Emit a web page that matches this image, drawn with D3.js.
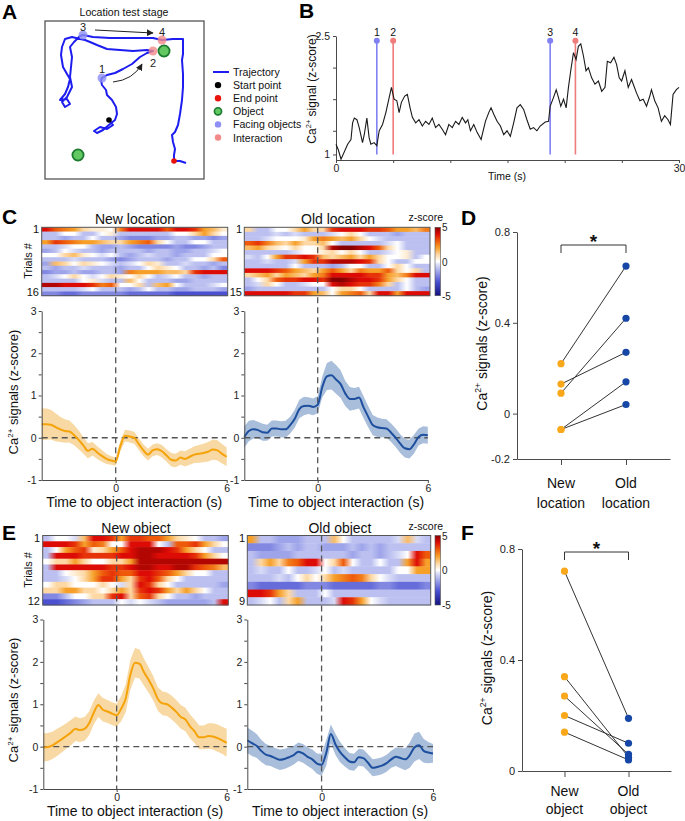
<!DOCTYPE html>
<html>
<head>
<meta charset="utf-8">
<script src="https://cdn.jsdelivr.net/npm/d3@7"></script>
<style>
  body { margin: 0; background: #fff; }
  svg { display: block; font-family: "Liberation Sans", Arial, Helvetica, sans-serif; }
</style>
</head>
<body>
<svg id="fig" width="685" height="821"></svg>
<script>
// ---------- data ----------
// A: trajectory in arena units (arena 159 x 158)
const trajectory = [[64,99],[68,104],[62,108],[55,106],[49,110],[52,112],[58,109],[65,103],[70,99],[72,93],
  [71,86],[67,79],[62,74],[61,69],[57,64],[56,59],[57,57],[62,54],[70,52],[78,48],[87,43],[95,36],[102,32],
  [108,30],[102,29],[88,30],[75,29],[62,28],[52,24],[45,21],[40,19],[35,18],[27,16],[20,18],[17,26],[16,34],
  [18,46],[22,53],[25,58],[23,66],[20,73],[15,79],[22,78],[25,83],[20,86],[17,81],[22,76],[27,66],[25,56],
  [26,46],[27,36],[25,26],[29,21],[35,15],[38,14],[48,16],[65,17],[88,17],[108,17],[117,19],[128,18],
  [138,18],[138,23],[138,33],[137,39],[138,53],[138,66],[137,79],[135,93],[133,104],[130,111],[127,114],
  [128,121],[130,128],[129,134],[129,140],[135,140],[141,142]]
const startPt = [64, 99]
const endPt = [129, 140]
const objectPts = [[119, 30], [33, 134]]
const eventPts = [[57, 57], [108, 30], [38, 14], [117, 19]]
const eventKinds = ['face', 'touch', 'face', 'touch']
const eventNames = ['1', '2', '3', '4']
const legendNames = ['Trajectory', 'Start point', 'End point', 'Object', 'Facing objects', 'Interaction']

// B: calcium trace (s, z-score)
const traceTime = [0,0.2,0.44,1.02,1.31,1.45,1.6,1.83,2.03,2.32,2.47,2.7,2.9,3.05,3.34,3.57,3.78,4.07,4.36,4.65,
  4.85,5.08,5.32,5.52,5.72,6.01,6.24,6.48,6.68,6.97,7.26,7.55,7.84,8.13,8.42,8.71,9.0,9.29,9.58,9.87,10.17,
  10.46,10.75,11.04,11.33,11.53,11.76,12.05,12.34,12.69,13.07,13.36,13.56,13.8,14.09,14.38,14.67,14.96,15.25,
  15.54,15.83,16.12,16.41,16.7,16.99,17.28,17.57,17.86,18.3,18.59,18.73,19.02,19.26,19.46,19.66,19.9,20.13,
  20.33,20.53,20.77,21.0,21.2,21.41,21.64,21.87,22.07,22.36,22.65,22.95,23.24,23.53,23.73,24.02,24.31,24.54,
  24.77,24.98,25.27,25.56,25.85,26.05,26.28,26.58,26.87,27.16,27.45,27.59,27.88,28.17,28.46,28.75,29.04,
  29.25,29.48,29.77,30]
const traceZ = [1.13,1.06,0.94,1.13,1.19,1.40,1.46,1.44,1.34,1.15,1.25,1.46,1.21,1.13,1.15,1.11,1.30,1.38,1.53,
  1.72,1.85,1.70,1.68,1.53,1.66,1.74,1.76,1.59,1.47,1.40,1.44,1.36,1.42,1.38,1.46,1.34,1.38,1.32,1.25,1.38,
  1.34,1.42,1.38,1.47,1.40,1.44,1.30,1.38,1.28,1.19,1.42,1.53,1.59,1.51,1.42,1.36,1.25,1.30,1.23,1.40,1.59,
  1.63,1.57,1.44,1.32,1.34,1.30,1.36,1.41,1.42,1.61,1.72,1.82,1.72,1.61,1.70,1.59,1.85,2.06,2.29,2.20,2.37,
  2.40,2.25,2.06,2.10,1.97,1.89,1.93,1.80,1.85,2.18,2.16,2.23,2.14,1.97,1.93,2.06,1.85,1.95,1.87,1.78,1.68,
  1.70,1.61,1.74,1.82,1.68,1.59,1.42,1.49,1.44,1.38,1.76,1.82,1.85]
const traceEvents = [3.57, 5.0, 18.73, 20.94]

// C/E: peri-event averages, sampled every 0.25 s from -4 to 6 s
const periTime = d3.range(-4, 6.001, 0.25)
const newLocMean = [0.32,0.32,0.31,0.25,0.2,0.16,0.15,0.06,-0.05,-0.18,-0.31,-0.26,-0.35,-0.43,-0.5,-0.54,-0.56,
  -0.2,0.05,0.03,0.0,-0.15,-0.3,-0.4,-0.3,-0.27,-0.32,-0.42,-0.52,-0.54,-0.47,-0.5,-0.45,-0.4,-0.38,-0.36,
  -0.33,-0.28,-0.3,-0.38,-0.45]
const newLocSem = [0.38,0.37,0.35,0.33,0.3,0.28,0.26,0.24,0.22,0.2,0.18,0.16,0.15,0.14,0.12,0.1,0.1,0.12,0.14,
  0.14,0.14,0.14,0.14,0.14,0.14,0.14,0.15,0.15,0.16,0.16,0.17,0.18,0.19,0.2,0.21,0.22,0.23,0.24,0.24,0.23,0.22]
const oldLocMean = [0.02,0.16,0.2,0.18,0.13,0.12,0.22,0.22,0.2,0.2,0.3,0.45,0.68,0.75,0.76,0.73,0.78,1.2,1.45,
  1.48,1.38,1.27,1.05,0.92,0.92,0.95,0.72,0.5,0.3,0.25,0.23,0.22,0.12,0.0,-0.14,-0.25,-0.27,-0.15,0.02,0.07,0.06]
const oldLocSem = [0.25,0.24,0.22,0.2,0.2,0.19,0.19,0.19,0.19,0.2,0.2,0.21,0.22,0.22,0.2,0.2,0.2,0.25,0.32,0.34,
  0.34,0.33,0.3,0.28,0.26,0.26,0.26,0.25,0.24,0.23,0.22,0.22,0.22,0.22,0.22,0.22,0.22,0.22,0.2,0.2,0.2]
const newObjMean = [-0.02,-0.01,0.03,0.1,0.17,0.25,0.33,0.42,0.39,0.42,0.55,0.8,0.98,0.87,0.83,0.78,0.74,0.9,
  1.15,1.7,1.98,1.95,1.75,1.57,1.37,1.12,1.02,1.0,0.92,0.82,0.7,0.64,0.48,0.36,0.22,0.22,0.25,0.24,0.2,0.15,0.09]
const newObjSem = [0.33,0.33,0.32,0.32,0.31,0.3,0.3,0.29,0.28,0.28,0.28,0.28,0.28,0.28,0.27,0.27,0.27,0.3,0.33,
  0.35,0.35,0.34,0.32,0.3,0.29,0.28,0.28,0.28,0.28,0.28,0.28,0.28,0.28,0.28,0.28,0.28,0.3,0.31,0.32,0.32,0.33]
const oldObjMean = [0.15,0.08,0.02,-0.1,-0.19,-0.22,-0.27,-0.31,-0.29,-0.25,-0.2,-0.12,-0.16,-0.24,-0.3,-0.4,
  -0.43,-0.15,0.3,0.05,-0.13,-0.25,-0.35,-0.37,-0.25,-0.27,-0.38,-0.5,-0.48,-0.45,-0.39,-0.3,-0.24,-0.27,-0.3,
  -0.2,-0.02,0.03,-0.1,-0.14,-0.16]
const oldObjSem = [0.3,0.3,0.28,0.26,0.25,0.24,0.24,0.24,0.24,0.23,0.22,0.22,0.22,0.22,0.23,0.24,0.26,0.3,0.22,
  0.25,0.24,0.22,0.2,0.2,0.2,0.2,0.2,0.2,0.2,0.2,0.2,0.2,0.22,0.24,0.26,0.3,0.33,0.32,0.28,0.25,0.22]

// heatmaps: one row per trial, 20 bins of 0.5 s from -4 to 6 s
const heatTime = d3.range(-4, 6, 0.5)
const newLocTrials = [
  [4,3,2.5,2,1,0.5,0.5,0,2.5,4,4,4,4,3,4,4,3.5,2,1.5,0.5],
  [-1,-1,0,0,-1,-1,0,0.5,-1,-1,-1,-1,-1,-1,0,0,1,2,1,0],
  [-1,-1,-1.5,-1,-1,0,-1,-1,-1.5,-2,-2,-2,-1.5,-1.5,-1,-1,-1.5,-1.5,-2,-1.5],
  [2,3.5,3,2.5,2,2,1.5,1,1,2,2.5,3,1,0,-1,-1,0,0,-1,-1],
  [-1,-1,-0.5,0,0,-1,-1.5,-1.5,-1,-1.5,-2,-2,-2,-2,-1.5,-2,-2,-1.5,-1,-1],
  [-1.5,-1,0,-0.5,-1,-1,-1.5,-1,-1,-1,-1,-1.5,-1,-1,-1.5,-1.5,-1,-1,-0.5,0],
  [0,0,1,1.5,0.5,0,-0.5,0,-1,-1.5,-1,-0.5,-1,-1,-1.5,-1,-1,-1,0,0],
  [-1,-1,-1,-0.5,-1,-1,-1,-1.5,-2,-1.5,-1,-1,-1,-1.5,-1,-1,0,0,1,3],
  [-1.5,1.5,1,0,1,0.5,0,-0.5,-1,-0.5,0,1,0.5,-1,-1,-0.5,-1,-1,-1.5,-1],
  [-1,-1.5,-1,-1,-0.5,-1,-1,-1,-1.5,-1,-1,0,1,0.5,0,-1,-1,-1.5,-1,-2],
  [-2,-1.5,-1.5,-1,-1.5,-1.5,-1,-1,-1.5,2.5,2,2,2,1.5,1.5,1,3.5,4,4,4],
  [-1,-0.5,0,1,0,-0.5,0,1,0.5,0,1,0,-1,-0.5,0,-1,-1,-1.5,-1,-1],
  [-1,-1,-1,-1,0,0.5,-0.5,-1,-1,1.5,0,-1,-1,-1,-1.5,-1.5,-1,-1,-1,-1],
  [4.5,4.5,4,4,4,3.5,2.5,3,0,0,1,-1,1.5,2,0,-1,-1,-1,-0.5,0],
  [-1,-1,-1,-1,-0.5,0,-1,-1,-1,-1.5,-1,0,-1,-1,-1.5,-1.5,-1,-1,-1,-1.5],
  [-2,-2,-2.5,-2.5,-2,-2,-2,-2,-2,-2.5,-2.5,-2.5,-2.5,-2.5,-3,-3,-3,-3,-3,-3]
]
const oldLocTrials = [
  [1,-1,-1,0,0,1,2,1,1,3.5,4,4,4,3.5,3.5,3,2,2,1.5,2.5],
  [-1,-1,-1,-0.5,-1,-0.5,-1,-1,-1,-0.5,0,1,0,-1,-1,-1,-1.5,-1,-1,-1],
  [-1,-1,-0.5,0,0,0,0.5,2,2.5,2,1.5,2,1,0,-0.5,-1,-1,-1,-1,-1],
  [3,3.5,2.5,1.5,1,2,1,1,1.5,0,-1,-1,-1,-1,-1,-0.5,0,-1,-1,-1],
  [1.5,2,1,0.5,0,1,0,0,1,4.5,5,5,4.5,4,3,1,0,-1,-1,-1],
  [-1,-1,-1,-1,-1,-0.5,0,0,0.5,1,0,1,0,-1,-1,-0.5,0,0.5,-1,-1],
  [-0.5,-1,0,2,3.5,3.5,4,3.5,1.5,1,1.5,2,1,2,1,0,0,0.5,-1,0],
  [-1,-1,-0.5,-1,-1,-0.5,2,3.5,3.5,4.5,4.5,4.5,4,3.5,1,0,-1,-1,0,0],
  [-1,-1,-1,-1,-1,0,-1,-1,-1,-1.5,-1,0,0,-1,-1,0,1,0,-1,-1],
  [4,4,4,3.5,3,2,1.5,1,2,3,2,1,2.5,2,2,3,1,0,1,-1],
  [1,1.5,2,1,2,1.5,1,2,2.5,4,4,4,4,3.5,3.5,2,1.5,2.5,4,4],
  [-1,0,1,3,3.5,3.5,4,4,3.5,5,5,4.5,4,4,3.5,2,1,0,-1,-1],
  [-1,-0.5,1,0,-1,-1,-0.5,0,0,4,4.5,4,3.5,3.5,2.5,1,-1,0,-1,-1],
  [-1.5,-1,-1,-1,-1,-1,-1,-1,-1,0,1,1,0,-1,-1,-1,-1,0,-1,-1.5],
  [4,4,4,4,4,3.5,3.5,2,1.5,0,2,2.5,3,1,4,4,2,4,4,4]
]
const newObjTrials = [
  [-1,0,0,-0.5,1.5,4,4,3.5,2,3.5,3.5,3,3,2,1,0.5,0,-1,-1,-1.5],
  [4,4,4,3.5,2,3,2.5,0,0,4,4,4,0,-1,3,3,3.5,2,1,0],
  [-1,0,2,3,3.5,0.5,1,2,3,4,4.5,4.5,4.5,4,3.5,2,1,0,-1,-1],
  [-1,4,4,4,3.5,3.5,3.5,3.5,4,4,4.5,4.5,4,4,4,4,3.5,2,1,0],
  [0,1,1,2,1,0,0,1,1,2,4.5,4.5,4.5,4.5,4.5,4.5,4.5,4.5,4.5,4.5],
  [-1,4,4,4,4,4,4,3.5,3.5,4,4.5,4.5,4,4,4.5,4.5,3.5,3,2.5,1.5],
  [-1,-1,0,0.5,1,2,3,3.5,3,3,4,4,3.5,3,2,1,0,0,-1,-1],
  [-1,-1,-0.5,0,1,2,3.5,3.5,2,1,3.5,4,3,1,0,-1,-1,-1,-1,-1],
  [0,1,1,0,0,0,1,0,-0.5,1,4,3.5,1,0,-1,-1,-1,-1,-1,-1.5],
  [1,1,2,2,1,1,0,1,2,1,3.5,4,3.5,2,1,2,1,0,-1,-1],
  [-2,-2,-1,0,0,1,1,3.5,4,1,3,3.5,1,0,-1,-1,-1.5,-1,-1,-1],
  [-3,-3,-2.5,-2,-1.5,-1,-1,-1,0,-0.5,0,-0.5,-1,-1.5,-1.5,-1.5,-1.5,-1.5,-1,4]
]
const oldObjTrials = [
  [2,-1,-1,-1.5,-1.5,-1.5,-1,-1,-1,1.5,0,-1,-1,-1,-1,-1,-0.5,1.5,-0.5,-1],
  [-2,-2,-2,-1.5,-1,-1.5,-1,-1,-1.5,-1.5,-1.5,-1,-1.5,-1,-1.5,-1,-1,-1,-1,-1],
  [-1,-1.5,-1.5,-1.5,-1.5,-1,-1,-1,-1,-1,-1,-1.5,-1,-1,-1.5,-1,-0.5,0,4,3],
  [-1,1,2,1,2.5,3,4,4,0,1,3,0,-1,-1,0,-1,-1,2,4,2],
  [-1,-0.5,-1,-1,0,-1,-1,-0.5,0,-1,-0.5,-1,-1,-1,-1,-1,0,0,2,2],
  [-1,-1,-1,-0.5,-1,0,1,0,1,2,2.5,3,2.5,1,0,-0.5,-1,-1,-1,-1],
  [-2,-2.5,-2.5,-2.5,-2.5,-2.5,-2,-2,-2,-2.5,-2.5,-2.5,-2.5,-2.5,-2,-2,-2.5,-2.5,-2.5,-2],
  [4,4,3.5,2,1,-1,-1,-1,0,-1,-1,-1,-1,-1,-1,-1,-1,-1,-1,-1],
  [-1,-0.5,0,-1,1,2,-1,-1,-1,-0.5,4,3.5,2,0,-0.5,-1,-1,-1,-1,-1]
]

// D/F: per-animal means
const newLocVals = [0.22, 0.09, 0.13, -0.07, -0.07]
const oldLocVals = [0.65, 0.42, 0.27, 0.14, 0.04]
const newObjVals = [0.72, 0.34, 0.27, 0.20, 0.14]
const oldObjVals = [0.19, 0.05, 0.06, 0.10, 0.04]

// ---------- styles ----------
const FONT = '"Liberation Sans", Arial, Helvetica, sans-serif'
const AXIS = '#4a4a4a'
const ORANGE = '#f5a30a', ORANGE_BAND = '#f8d9a3'
const BLUE = '#1d4f9e', BLUE_BAND = '#a9bedb'
const DOT_ORANGE = '#f9a81c', DOT_BLUE = '#1747a6'
const heatColor = d3.scaleLinear()
  .domain([-5, -3, -1.5, -0.5, 0, 1, 2, 3, 4, 5])
  .range(['#12127e', '#4a50d0', '#9ea4ea', '#d8dbf6', '#ffffff', '#fdd8a4', '#f6a02a', '#ee5a0a', '#dd0b05', '#860000'])

const svg = d3.select('#fig')
const defs = svg.append('defs')

defs.append('marker')
  .attr('id', 'arrowHead')
  .attr('viewBox', '0 0 10 10')
  .attr('refX', 9).attr('refY', 5)
  .attr('markerWidth', 7).attr('markerHeight', 7)
  .attr('markerUnits', 'userSpaceOnUse')
  .attr('orient', 'auto')
  .append('path').attr('d', 'M0,0 L10,5 L0,10 z').attr('fill', '#222')

function styleAxis(g, fs) {
  g.select('.domain').attr('stroke', AXIS)
  g.selectAll('.tick line').attr('stroke', AXIS)
  g.selectAll('.tick text')
    .attr('fill', '#222')
    .attr('font-size', fs)
    .attr('font-family', FONT)
}

// rotated "Ca2+ signals (z-score)"
function caLabel(x, y, fs, rest) {
  const t = svg.append('text')
    .attr('transform', `translate(${x},${y}) rotate(-90)`)
    .attr('text-anchor', 'middle')
    .attr('font-size', fs)
    .attr('fill', '#111')
  t.append('tspan').text('Ca')
  t.append('tspan').attr('dy', -fs * 0.4).attr('font-size', fs * 0.62).text('2+')
  t.append('tspan').attr('dy', fs * 0.4).text(rest)
}

// panel letters
;[['A', 2, 19], ['B', 299, 18], ['C', 2, 224], ['D', 461, 225], ['E', 2, 540], ['F', 461, 540]]
  .forEach(([s, x, y]) => {
    svg.append('text').attr('x', x).attr('y', y)
      .attr('font-size', 21).attr('font-weight', 'bold').attr('fill', '#000').text(s)
  })

// ---------- A ----------
{
  const ax = d3.scaleLinear().domain([0, 159]).range([45, 204])
  const ay = d3.scaleLinear().domain([0, 158]).range([21, 179])
  const g = svg.append('g')

  g.append('text').attr('x', 124).attr('y', 16).attr('text-anchor', 'middle')
    .attr('font-size', 10.6).attr('fill', '#111').text('Location test stage')
  g.append('rect').attr('x', ax(0)).attr('y', ay(0))
    .attr('width', ax(159) - ax(0)).attr('height', ay(158) - ay(0))
    .attr('fill', 'none').attr('stroke', '#555').attr('stroke-width', 1.3)

  g.append('path').datum(trajectory)
    .attr('d', d3.line().x(d => ax(d[0])).y(d => ay(d[1])))
    .attr('fill', 'none').attr('stroke', '#1d1df0').attr('stroke-width', 2)
    .attr('stroke-linejoin', 'round')

  g.selectAll('.obj').data(objectPts).join('circle')
    .attr('cx', d => ax(d[0])).attr('cy', d => ay(d[1])).attr('r', 5.6)
    .attr('fill', '#62c862').attr('stroke', '#1b7a2e').attr('stroke-width', 1.8)

  g.selectAll('.ev').data(eventPts).join('circle')
    .attr('cx', d => ax(d[0])).attr('cy', d => ay(d[1])).attr('r', 4.5)
    .attr('fill', (d, i) => eventKinds[i] === 'face' ? '#8f8ff5' : '#f28a8a')
    .attr('opacity', 0.8)

  const labelDy = [-9, 12, -8, -8]
  g.selectAll('.evl').data(eventPts).join('text')
    .attr('x', d => ax(d[0])).attr('y', (d, i) => ay(d[1]) + labelDy[i] + 4)
    .attr('text-anchor', 'middle').attr('font-size', 11).attr('fill', '#222')
    .text((d, i) => eventNames[i])

  g.append('circle').attr('cx', ax(startPt[0])).attr('cy', ay(startPt[1])).attr('r', 2.8).attr('fill', '#000')
  g.append('circle').attr('cx', ax(endPt[0])).attr('cy', ay(endPt[1])).attr('r', 2.8).attr('fill', '#e8140c')

  // movement arrows 3 -> 4 and 1 -> 2
  g.append('line')
    .attr('x1', ax(50)).attr('y1', ay(9)).attr('x2', ax(108)).attr('y2', ay(12))
    .attr('stroke', '#222').attr('stroke-width', 1).attr('marker-end', 'url(#arrowHead)')
  const p = d3.path()
  p.moveTo(ax(68), ay(61))
  p.quadraticCurveTo(ax(88), ay(59), ax(97), ay(43))
  g.append('path').attr('d', p.toString()).attr('fill', 'none')
    .attr('stroke', '#222').attr('stroke-width', 1).attr('marker-end', 'url(#arrowHead)')

  // legend
  const lg = g.append('g').attr('transform', 'translate(213,72)')
  legendNames.forEach((name, i) => {
    const y = i * 13.1
    if (i === 0) {
      lg.append('line').attr('x1', 0).attr('x2', 16).attr('y1', y).attr('y2', y)
        .attr('stroke', '#1d1df0').attr('stroke-width', 2)
    } else if (i === 3) {
      lg.append('circle').attr('cx', 5).attr('cy', y).attr('r', 3.6)
        .attr('fill', '#62c862').attr('stroke', '#1b7a2e').attr('stroke-width', 1.6)
    } else {
      const fill = ['', '#000', '#e8140c', '', '#8f8ff5', '#f28a8a'][i]
      lg.append('circle').attr('cx', 5).attr('cy', y).attr('r', 3.2).attr('fill', fill)
    }
    lg.append('text').attr('x', 20).attr('y', y + 4).attr('font-size', 10.6).attr('fill', '#111').text(name)
  })
}

// ---------- B ----------
{
  const xB = d3.scaleLinear().domain([0, 30]).range([336, 679])
  const yB = d3.scaleLinear().domain([0.93, 2.5]).range([160, 36])
  const g = svg.append('g')

  const gx = g.append('g').attr('transform', 'translate(0,160)')
    .call(d3.axisBottom(xB).tickValues(d3.range(0, 31, 5))
      .tickFormat(d => (d === 0 || d === 30) ? d : '').tickSize(3).tickSizeOuter(0))
  styleAxis(gx, 10.5)
  gx.selectAll('.tick text').attr('dy', '0.6em')

  const gy = g.append('g').attr('transform', 'translate(336,0)')
    .call(d3.axisLeft(yB).tickValues([1, 1.3, 1.7, 2.1, 2.5])
      .tickFormat(d => (d === 1 || d === 2.5) ? d : '').tickSize(3).tickSizeOuter(0))
  styleAxis(gy, 10.5)

  g.append('text').attr('x', 507).attr('y', 180).attr('text-anchor', 'middle')
    .attr('font-size', 10.5).attr('fill', '#111').text('Time (s)')

  const yl = g.append('text')
    .attr('transform', 'translate(316,89) rotate(-90)')
    .attr('text-anchor', 'middle').attr('font-size', 12).attr('fill', '#111')
  yl.append('tspan').text('Ca')
  yl.append('tspan').attr('dy', -5).attr('font-size', 7.5).text('2+')
  yl.append('tspan').attr('dy', 5).text(' signal (z-score)')

  g.selectAll('.evline').data(traceEvents).join('line')
    .attr('x1', d => xB(d)).attr('x2', d => xB(d))
    .attr('y1', yB(2.44)).attr('y2', yB(1))
    .attr('stroke', (d, i) => eventKinds[i] === 'face' ? '#8080f2' : '#f07c7c')
    .attr('stroke-width', 1.6)
  g.selectAll('.evdot').data(traceEvents).join('circle')
    .attr('cx', d => xB(d)).attr('cy', yB(2.44)).attr('r', 3)
    .attr('fill', (d, i) => eventKinds[i] === 'face' ? '#8080f2' : '#f07c7c')
  g.selectAll('.evnum').data(traceEvents).join('text')
    .attr('x', d => xB(d)).attr('y', 36).attr('text-anchor', 'middle')
    .attr('font-size', 10.5).attr('fill', '#111').text((d, i) => eventNames[i])

  g.append('path').datum(traceZ)
    .attr('d', d3.line().x((d, i) => xB(traceTime[i])).y(d => yB(d)))
    .attr('fill', 'none').attr('stroke', '#1a1a1a').attr('stroke-width', 1.1)
}

// ---------- heatmaps ----------
let gradId = 0
function heatmap(rows, x0, x1, y0, y1, labelX, lastLabel) {
  const hx = d3.scaleLinear().domain([-4, 6]).range([x0, x1])
  const hy = d3.scaleBand().domain(d3.range(rows.length)).range([y0, y1])
  const g = svg.append('g')
  rows.forEach((row, r) => {
    const id = 'hm' + (gradId++)
    const grad = defs.append('linearGradient').attr('id', id)
    row.forEach((v, c) => {
      grad.append('stop')
        .attr('offset', (hx(heatTime[c] + 0.25) - x0) / (x1 - x0))
        .attr('stop-color', heatColor(v))
    })
    g.append('rect').attr('x', x0).attr('y', hy(r))
      .attr('width', x1 - x0).attr('height', hy.bandwidth() + 0.4)
      .attr('fill', `url(#${id})`)
  })
  g.append('rect').attr('x', x0).attr('y', y0).attr('width', x1 - x0).attr('height', y1 - y0)
    .attr('fill', 'none').attr('stroke', '#555').attr('stroke-width', 1)
  g.append('text').attr('x', labelX).attr('y', y0 + 6).attr('text-anchor', 'end')
    .attr('font-size', 11).attr('fill', '#111').text('1')
  g.append('text').attr('x', labelX).attr('y', y1).attr('text-anchor', 'end')
    .attr('font-size', 11).attr('fill', '#111').text(lastLabel)
}

function colorbar(x, y0, y1) {
  const id = 'cbar' + y0
  const grad = defs.append('linearGradient').attr('id', id)
    .attr('x1', 0).attr('x2', 0).attr('y1', 1).attr('y2', 0)
  heatColor.domain().forEach(v => {
    grad.append('stop').attr('offset', (v + 5) / 10).attr('stop-color', heatColor(v))
  })
  const cy = d3.scaleLinear().domain([-5, 5]).range([y1, y0])
  svg.append('rect').attr('x', x).attr('y', y0).attr('width', 5.5).attr('height', y1 - y0)
    .attr('fill', `url(#${id})`).attr('stroke', '#555').attr('stroke-width', 0.6)
  ;[5, 0, -5].forEach(v => {
    svg.append('text').attr('x', x + 7).attr('y', cy(v) + 4)
      .attr('font-size', 10).attr('fill', '#222').text(v)
  })
  svg.append('text').attr('x', 443).attr('y', y0 - 6).attr('text-anchor', 'end')
    .attr('font-size', 10.5).attr('fill', '#111').text('z-score')
}

function trialsLabel(y) {
  svg.append('text').attr('transform', `translate(32,${y}) rotate(-90)`)
    .attr('text-anchor', 'middle').attr('font-size', 11).attr('fill', '#111').text('Trials #')
}

// ---------- peri-event traces ----------
function tracePanel(cfg) {
  const x = d3.scaleLinear().domain([-4, 6]).range([cfg.x0, cfg.x1])
  const y = d3.scaleLinear().domain([-1, 3]).range([cfg.yBot, cfg.yTop])
  const g = svg.append('g')

  g.append('path').datum(cfg.mean)
    .attr('d', d3.area()
      .x((d, i) => x(periTime[i]))
      .y0((d, i) => y(d - cfg.sem[i]))
      .y1((d, i) => y(d + cfg.sem[i])))
    .attr('fill', cfg.band)

  g.append('line').attr('x1', cfg.x0).attr('x2', cfg.x1).attr('y1', y(0)).attr('y2', y(0))
    .attr('stroke', '#555').attr('stroke-width', 1.3).attr('stroke-dasharray', '6,4')
  g.append('line').attr('x1', x(0)).attr('x2', x(0)).attr('y1', cfg.dashTop).attr('y2', cfg.yBot)
    .attr('stroke', '#555').attr('stroke-width', 1.3).attr('stroke-dasharray', '6,4')

  g.append('path').datum(cfg.mean)
    .attr('d', d3.line().x((d, i) => x(periTime[i])).y(d => y(d)).curve(d3.curveMonotoneX))
    .attr('fill', 'none').attr('stroke', cfg.color).attr('stroke-width', 2)

  const gy = g.append('g').attr('transform', `translate(${cfg.x0},0)`)
    .call(d3.axisLeft(y).tickValues(d3.range(-1, 3.01, 0.5))
      .tickFormat(d => Number.isInteger(d) ? String(d) : '').tickSize(3).tickSizeOuter(0))
  styleAxis(gy, 10.5)
  gy.selectAll('.tick text').attr('x', -5)

  const gx = g.append('g').attr('transform', `translate(0,${cfg.yBot})`)
    .call(d3.axisBottom(x).tickValues([0, 6]).tickFormat(d => String(d)).tickSize(3).tickSizeOuter(0))
  styleAxis(gx, 10.5)
  gx.selectAll('.tick text').attr('dy', '0.55em')

  g.append('text').attr('x', (cfg.x0 + cfg.x1) / 2).attr('y', cfg.yBot + 27)
    .attr('text-anchor', 'middle').attr('font-size', 14).attr('fill', '#111')
    .text('Time to object interaction (s)')
}

function panelTitle(text, x, y) {
  svg.append('text').attr('x', x).attr('y', y).attr('text-anchor', 'middle')
    .attr('font-size', 14).attr('fill', '#111').text(text)
}

// C
panelTitle('New location', 135, 224)
panelTitle('Old location', 338, 224)
heatmap(newLocTrials, 41.7, 227.7, 227.3, 295.7, 39, '16')
heatmap(oldLocTrials, 244.3, 430, 227.3, 295.7, 242, '15')
colorbar(435, 227.3, 295.7)
trialsLabel(261)
tracePanel({x0: 41.7, x1: 226.7, yTop: 311, yBot: 480, mean: newLocMean, sem: newLocSem,
  color: ORANGE, band: ORANGE_BAND, dashTop: 227.3})
tracePanel({x0: 244.3, x1: 427.8, yTop: 311, yBot: 480, mean: oldLocMean, sem: oldLocSem,
  color: BLUE, band: BLUE_BAND, dashTop: 227.3})
caLabel(18, 392, 13, ' signals (z-score)')

// E
panelTitle('New object', 136, 533)
panelTitle('Old object', 340, 533)
heatmap(newObjTrials, 42.7, 228.3, 535.5, 605, 40, '12')
heatmap(oldObjTrials, 247.3, 430.7, 535.5, 605, 245, '9')
colorbar(435, 535.5, 605)
trialsLabel(570)
tracePanel({x0: 43.3, x1: 226.7, yTop: 619.5, yBot: 789, mean: newObjMean, sem: newObjSem,
  color: ORANGE, band: ORANGE_BAND, dashTop: 535.5})
tracePanel({x0: 247.3, x1: 433, yTop: 619.5, yBot: 789, mean: oldObjMean, sem: oldObjSem,
  color: BLUE, band: BLUE_BAND, dashTop: 535.5})
caLabel(18, 700, 13, ' signals (z-score)')

// ---------- paired panels ----------
function pairPanel(cfg) {
  const y = d3.scaleLinear().domain(cfg.yDomain).range(cfg.yRange)
  const x = d3.scalePoint().domain(['new', 'old']).range([cfg.axL, cfg.axR]).padding(cfg.pad)
  const g = svg.append('g')
  const base = cfg.yRange[0]

  const gy = g.append('g').attr('transform', `translate(${cfg.axL},0)`)
    .call(d3.axisLeft(y).tickValues(cfg.ticks).tickFormat(d => String(d)).tickSize(4).tickSizeOuter(0))
  styleAxis(gy, 11)
  const gx = g.append('g').attr('transform', `translate(0,${base})`)
    .call(d3.axisBottom(x).tickFormat('').tickSize(6).tickSizeOuter(0))
  styleAxis(gx, 11)

  cfg.newV.forEach((v, i) => {
    g.append('line').attr('x1', x('new')).attr('y1', y(v)).attr('x2', x('old')).attr('y2', y(cfg.oldV[i]))
      .attr('stroke', '#333').attr('stroke-width', 1)
  })
  g.selectAll('.n').data(cfg.newV).join('circle')
    .attr('cx', x('new')).attr('cy', d => y(d)).attr('r', 3.6).attr('fill', DOT_ORANGE)
  g.selectAll('.o').data(cfg.oldV).join('circle')
    .attr('cx', x('old')).attr('cy', d => y(d)).attr('r', 3.6).attr('fill', DOT_BLUE)

  // significance bracket
  g.append('path')
    .attr('d', `M${x('new')},${cfg.brY + 8}V${cfg.brY}H${x('old')}V${cfg.brY + 8}`)
    .attr('fill', 'none').attr('stroke', '#333').attr('stroke-width', 1)
  g.append('text').attr('x', (x('new') + x('old')) / 2).attr('y', cfg.brY + 3)
    .attr('text-anchor', 'middle').attr('font-size', 19).attr('font-weight', 'bold').attr('fill', '#111').text('*')

  ;[['new', cfg.labels[0]], ['old', cfg.labels[1]]].forEach(([k, lines]) => {
    lines.forEach((s, j) => {
      g.append('text').attr('x', x(k)).attr('y', base + cfg.labelDy + j * cfg.lineGap)
        .attr('text-anchor', 'middle').attr('font-size', 14).attr('fill', '#111').text(s)
    })
  })
  caLabel(cfg.axL - 30, (cfg.yRange[0] + cfg.yRange[1]) / 2 - 2, 14, ' signals (z-score)')
}

pairPanel({yDomain: [-0.2, 0.8], yRange: [459, 232], ticks: [-0.2, 0, 0.4, 0.8],
  axL: 517, axR: 670, pad: 0.677, newV: newLocVals, oldV: oldLocVals, brY: 245,
  labelDy: 29, lineGap: 20, labels: [['New', 'location'], ['Old', 'location']]})
pairPanel({yDomain: [0, 0.8], yRange: [771, 549], ticks: [0, 0.4, 0.8],
  axL: 522, axR: 671, pad: 0.664, newV: newObjVals, oldV: oldObjVals, brY: 552,
  labelDy: 25, lineGap: 18, labels: [['New', 'object'], ['Old', 'object']]})
</script>
</body>
</html>
